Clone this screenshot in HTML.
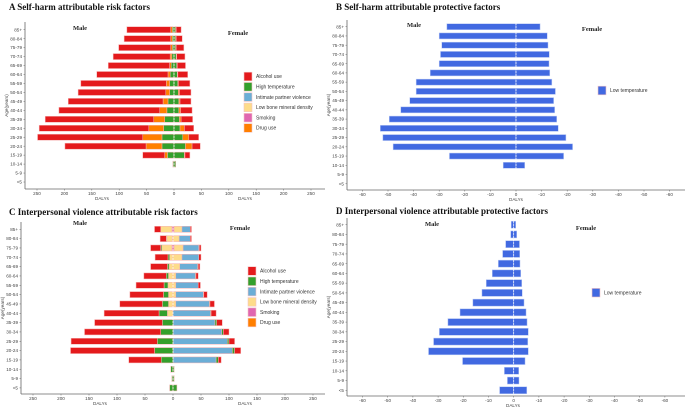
<!DOCTYPE html>
<html><head><meta charset="utf-8">
<style>
html,body{margin:0;padding:0;background:#fff;}
svg{display:block;font-family:"Liberation Sans",sans-serif;}
.t{font-family:"Liberation Serif",serif;font-weight:bold;font-size:9px;fill:#111}
.s{font-family:"Liberation Serif",serif;font-weight:bold;font-size:6.5px;fill:#222}
.tk{font-size:4.6px;fill:#444}
.lg{font-size:5px;fill:#333}
</style></head><body>
<svg id="chart" width="685" height="409" viewBox="0 0 685 409" xmlns="http://www.w3.org/2000/svg">
<text class="t" x="9" y="10">A  Self-harm attributable risk factors</text>
<text class="t" x="336" y="10">B  Self-harm attributable protective factors</text>
<text class="t" x="9" y="215">C  Interpersonal violence attributable risk factors</text>
<text class="t" x="336" y="214">D  Interpersonal violence attributable protective factors</text>
</svg>
<script>
const ages=["85+","80-84","75-79","70-74","65-69","60-64","55-59","50-54","45-49","40-44","35-39","30-34","25-29","20-24","15-19","10-14","5-9","<5"];
const riskTicks=["250","200","150","100","50","0","50","100","150","200","250"];
const riskTickVals=[-250,-200,-150,-100,-50,0,50,100,150,200,250];
const protTicks=["-60","-50","-40","-30","-20","-10","0","-10","-20","-30","-40","-50","-60"];
const protTickVals=[-60,-50,-40,-30,-20,-10,0,10,20,30,40,50,60];
// Panel A (self-harm risk)
const aMaleHeat=[3,3,3,4,5,7,8,8,11,13,17,19,22,22,12,2,0,0];
const aMaleDrug=[3,3,3,3,3,4,6,7,9,13,20,27,35,29,5,0,0,0];
const aMaleAlcohol=[80,85,95,104,112,130,156,160,173,184,198,200,192,148,40,0,0,0];
const aFemaleHeat=[3,3,3,4,5,6,7,8,9,9,10,11,16,21,19,3,0,0];
const aFemaleDrug=[1,1,1,1,1,1,1,2,2,3,3,8,11,12,1,0,0,0];
const aFemaleAlcohol=[9,11,14,15,15,18,21,21,20,21,21,17,18,15,9,0,0,0];
// Panel B (self-harm low temperature)
const bMale=[27,30,29,29.5,30,33.5,39,39,41.5,45,49.5,53,52,48,26,5,0,0];
const bFemale=[9.4,12.2,12.5,13,12.9,13.2,14,15.4,14.7,15.1,15.9,16.5,19.5,22.1,18.6,3.4,0,0];
// Panel C (interpersonal violence risk)
const cMaleSmoking=[2,1,2,0,0,0,0,0,0,0,0,0,0,0,0,0,0,0];
const cMaleBone=[20,10,18,6,7,8,9,8,8,10,0,0,0,0,0,0,0,0];
const cMaleIpv=[0,0,0,0,0,0,0,0,0,0,0,0,0,0,0,0,0,0];
const cMaleHeat=[0,1,2,3,3,4,7,9,11,15,19,22,28,33,21,4,2,6];
const cMaleAlcohol=[11,11,18,23,30,40,50,60,76,98,121,136,154,150,58,0,0,0];
const cFemaleSmoking=[2,0,2,0,0,0,0,0,0,0,0,0,0,0,0,0,0,0];
const cFemaleBone=[14,11,16,16,12,5,5,5,5,0,0,0,0,0,0,0,0,0];
const cFemaleIpv=[15,20,28,30,32,35,40,49,60,67,75,87,97,106,77,0,0,0];
const cFemaleHeat=[0,0,1,0,1,1,0,1,1,1,3,3,3,4,4,2,2,7];
const cFemaleAlcohol=[2,2,3,4,3,4,4,6,8,9,10,10,10,11,5,0,0,0];
// Panel D (interpersonal violence low temperature)
const dMale=[1,1.2,3.2,4.4,6.1,8.5,10.9,12.6,16.2,21.3,26.1,29.5,31.8,33.8,20.3,3.7,2.5,5.6];
const dFemale=[0.8,1.2,2.3,2.4,2.5,2.8,3.2,3.4,4.1,4.9,5.3,5.8,5.6,5.8,4.5,2,2.1,5.2];

const C={red:"#e41a1c",green:"#33a02c",blue:"#6baed6",yellow:"#fddc8a",pink:"#e066b0",orange:"#ff7f00",royal:"#4169e1"};
const svg=document.getElementById('chart');
const NS="http://www.w3.org/2000/svg";
function mk(tag,attrs){const e=document.createElementNS(NS,tag);for(const k in attrs)e.setAttribute(k,attrs[k]);svg.appendChild(e);return e;}

function panel(p){
  const sx=v=>p.zero+v*p.scale;
  const sy=i=>p.top+i*p.step;
  // axes
  let ax=mk('line',{x1:p.axL,y1:p.axTop,x2:p.axL,y2:p.axY,stroke:'#666','stroke-width':0.8});
  
  
  let bx=mk('line',{x1:p.axL,y1:p.axY,x2:p.axR,y2:p.axY,stroke:'#666','stroke-width':0.8});
  
  
  ages.forEach((a,i)=>{
    const t=mk('text',{x:p.axL-3,y:sy(i)+1.6,'text-anchor':'end',class:'tk'});t.textContent=a;
    
    
    mk('line',{x1:p.axL-1.5,y1:sy(i),x2:p.axL,y2:sy(i),stroke:'#666','stroke-width':0.5});
  });
  p.tickVals.forEach((v,i)=>{
    mk('line',{x1:sx(v),y1:p.axY,x2:sx(v),y2:p.axY+1.5,stroke:'#666','stroke-width':0.5});
    const t=mk('text',{x:sx(v),y:p.axY+6,'text-anchor':'middle',class:'tk'});t.textContent=p.tickLabels[i];
    
    
  });
  const yt=mk('text',{x:0,y:0,class:'tk','text-anchor':'middle',transform:`translate(${p.axL-17},${(p.axTop+p.axY)/2}) rotate(-90)`});
  yt.textContent='Age(years)';
  
  
  p.xTitles.forEach(x=>{
    const t=mk('text',{x:x,y:p.axY+11,'text-anchor':'middle',class:'tk'});t.textContent='DALYs';
    
    
  });
  // bars
  const h=p.barH;
  ages.forEach((a,i)=>{
    let accM=0,accF=0;
    p.series.forEach(s=>{
      const mv=s.male[i],fv=s.female[i];
      if(mv>0){
        const r=mk('rect',{x:sx(-(accM+mv)),y:sy(i)-h/2,width:mv*p.scale,height:h,fill:s.color,stroke:p.edge,'stroke-width':0.5});
        
        
        accM+=mv;
      }
      if(fv>0){
        const r=mk('rect',{x:sx(accF),y:sy(i)-h/2,width:fv*p.scale,height:h,fill:s.color,stroke:p.edge,'stroke-width':0.5});
        
        
        accF+=fv;
      }
    });
  });
  mk('line',{x1:p.zero,y1:p.axTop,x2:p.zero,y2:p.axY-2,stroke:'#fff','stroke-width':0.7,'stroke-dasharray':'2,1'});
  const m=mk('text',{x:p.maleX,y:p.maleY,class:'s','text-anchor':'middle'});m.textContent='Male';
  
  
  const f=mk('text',{x:p.femX,y:p.femY,class:'s','text-anchor':'middle'});f.textContent='Female';
  
  
  p.legend.forEach((l,i)=>{
    const y=p.legY+i*10.3;
    const r=mk('rect',{x:p.legX,y:y-4.3,width:8,height:8.6,fill:l[1],stroke:'#f4c4c4','stroke-width':0.6});
    
    
    const t=mk('text',{x:p.legX+12,y:y+1.7,class:'lg'});t.textContent=l[0];
    
    
  });
}
const riskLegend=[["Alcohol use",C.red],["High temperature",C.green],["Intimate partner violence",C.blue],["Low bone mineral density",C.yellow],["Smoking",C.pink],["Drug use",C.orange]];
panel({id:'panel-a',zero:174,scale:0.548,top:29.7,step:8.96,barH:6,axL:25,axR:325,axTop:22,axY:189,
  tickVals:riskTickVals,tickLabels:riskTicks,xTitles:[102,245],edge:'#f6b3b3',
  series:[{male:aMaleHeat,female:aFemaleHeat,color:C.green},{male:aMaleDrug,female:aFemaleDrug,color:C.orange},{male:aMaleAlcohol,female:aFemaleAlcohol,color:C.red}],
  maleX:80,maleY:30,femX:238,femY:35,legend:riskLegend,legX:244,legY:76.5});
panel({id:'panel-b',zero:516,scale:2.56,top:26.7,step:9.24,barH:6,axL:347,axR:685,axTop:20,axY:190,
  tickVals:protTickVals,tickLabels:protTicks,xTitles:[516],edge:'#b8c8f4',
  series:[{male:bMale,female:bFemale,color:C.royal}],
  maleX:414,maleY:27,femX:592,femY:31,legend:[["Low temperature",C.royal]],legX:598,legY:90.5});
panel({id:'panel-c',zero:173,scale:0.56,top:229.3,step:9.33,barH:6,axL:21,axR:325,axTop:222,axY:394,
  tickVals:riskTickVals,tickLabels:riskTicks,xTitles:[100,245],edge:'#f6b3b3',
  series:[{male:cMaleSmoking,female:cFemaleSmoking,color:C.pink},{male:cMaleBone,female:cFemaleBone,color:C.yellow},{male:cMaleIpv,female:cFemaleIpv,color:C.blue},{male:cMaleHeat,female:cFemaleHeat,color:C.green},{male:cMaleAlcohol,female:cFemaleAlcohol,color:C.red}],
  maleX:80,maleY:225,femX:240,femY:230,legend:riskLegend,legX:248,legY:271});
panel({id:'panel-d',zero:513.7,scale:2.52,top:224.7,step:9.74,barH:7,axL:347,axR:685,axTop:218,axY:396,
  tickVals:protTickVals,tickLabels:protTicks,xTitles:[513],edge:'#b8c8f4',
  series:[{male:dMale,female:dFemale,color:C.royal}],
  maleX:432,maleY:226,femX:586,femY:230,legend:[["Low temperature",C.royal]],legX:592,legY:292.7});
</script>
</body></html>
